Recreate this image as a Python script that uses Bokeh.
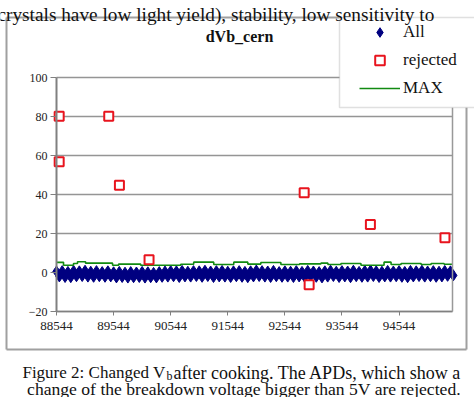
from bokeh.plotting import figure
from bokeh.models import (Range1d, FixedTicker, Label, BoxAnnotation, Legend,
                          LegendItem, ColumnDataSource, LinearAxis)
from bokeh.embed import file_html
from bokeh.resources import INLINE

# ---------------- data ----------------
apd_first = 88544
apd_last = 95480
apd_step = 50
# "All" series: dVb of every APD (dense band around 0)
all_dvb = [0.5, -2.0, 0.7, -2.3, 0.3, -2.4, 0.8, -1.9, 0.6, -1.8,
           0.9, -2.1, 0.4, -2.2, 0.7, -1.9, 0.2, -2.2, 0.6, -2.0,
           0.1, -2.5, 0.3, -2.3, -0.1, -2.6, 0.2, -2.4, 0.0, -2.3,
           0.3, -2.6, 0.1, -2.4, -0.2, -2.5, 0.2, -2.2, 0.5, -2.1,
           0.7, -1.9, 0.6, -2.3, 0.8, -2.0, 0.4, -2.1, 0.7, -1.8,
           0.6, -2.2, 0.9, -1.8, 0.5, -2.3, 0.7, -2.0, 0.8, -2.1,
           0.4, -2.3, 0.6, -1.9, 0.7, -2.2, 0.3, -2.4, 0.6, -2.0,
           1.0, -1.8, 0.7, -2.1, 0.5, -2.3, 0.8, -1.9, 0.2, -2.2,
           0.6, -2.1, 0.4, -2.3, 0.7, -2.0, 0.3, -2.4, 0.8, -1.9,
           0.5, -2.2, 0.2, -2.5, 0.6, -2.1, 0.9, -1.8, 0.4, -2.3,
           0.7, -2.0, 0.5, -2.4, 0.9, -1.9, 0.3, -2.2, 0.8, -2.1,
           1.0, -1.8, 0.6, -2.3, 0.4, -2.0, 0.8, -2.1, 0.5, -1.9,
           0.7, -2.2, 0.3, -2.4, 0.8, -2.0, 0.6, -1.8, 0.9, -2.1,
           0.5, -1.9, 0.7, -2.2, 0.4, -2.0, 0.8, -1.7, 0.6, -1.5]
all_ids = [apd_first + apd_step * i for i in range(len(all_dvb))]

# rejected APDs
rej_ids = [88591, 88591, 89459, 89646, 90165, 92882, 92969, 94042, 95348]
rej_dvb = [80.1, 56.8, 80.1, 44.7, 6.5, 40.9, -6.3, 24.6, 17.8]

# MAX curve (step-like)
max_ids = [88544, 88667, 88842, 88912, 89053, 89526, 89632, 90018, 90720,
           90947, 91298, 91649, 91895, 92123, 92474, 92800, 93175, 93298,
           93526, 93877, 94281, 94404, 94579, 94930, 95105, 95333, 95480]
max_dvb = [5.2, 3.7, 4.6, 5.5, 4.8, 3.7, 4.3, 3.7, 4.2,
           5.3, 4.1, 5.3, 4.3, 5.1, 4.1, 4.4, 4.8, 4.1,
           4.6, 3.7, 5.3, 4.1, 4.6, 4.1, 4.6, 4.2, 4.2]

x_ticks = [88544, 89544, 90544, 91544, 92544, 93544, 94544]
y_ticks = [-20, 0, 20, 40, 60, 80, 100]
y_min, y_max = -20, 100

title_text = "dVb_cern"
top_text = "crystals have low light yield), stability, low sensitivity to"
cap1a = "Figure 2: Changed V"
cap1b = "b"
cap1c = "after cooking. The APDs, which show a"
cap2 = "change of the breakdown voltage bigger than 5V are rejected."

SERIF = "Liberation Serif"

# ---------------- layout (pixels in the canvas) ----------------
W, H = 474, 397
PL, PR, PT, PB = 56, 452, 77, 311          # plot area edges
FL, FR, FT, FB = 6, 466, 17, 349           # chart frame edges
LL, LB = 339, 107                          # legend box left / bottom
kx = (apd_last - apd_first) / (PR - PL)
ky = (y_max - y_min) / (PB - PT)
x_range = Range1d(apd_first - PL * kx, apd_last + (W - PR) * kx)
y_range = Range1d(y_min - (H - PB) * ky, y_max + PT * ky)

def sy(fig_y):          # canvas y (from top) -> screen units (from bottom)
    return H - fig_y

def dx(px):             # canvas x -> data x
    return x_range.start + px * kx

def dy(py):             # canvas y -> data y
    return y_range.end - py * ky

p = figure(width=W, height=H, output_backend="svg", toolbar_location=None,
           x_range=x_range, y_range=y_range,
           min_border=0, min_border_left=0, min_border_right=0,
           min_border_top=0, min_border_bottom=0)
p.background_fill_color = "white"
p.border_fill_color = "white"
p.outline_line_color = None

p.xgrid.visible = False
p.ygrid.ticker = FixedTicker(ticks=y_ticks)
p.ygrid.grid_line_color = "#959595"
p.ygrid.grid_line_width = 1.5
p.ygrid.cross_bounds = (apd_first, apd_last)

p.yaxis.fixed_location = apd_first
p.yaxis.ticker = FixedTicker(ticks=y_ticks)
p.yaxis.bounds = (y_min, y_max)
p.yaxis.axis_line_color = "#808080"
p.yaxis.axis_line_width = 2
p.yaxis.major_tick_line_color = "#808080"
p.yaxis.major_tick_out = 6
p.yaxis.major_tick_in = 0
p.yaxis.minor_tick_line_color = None
p.yaxis.major_label_text_font = SERIF
p.yaxis.major_label_text_font_size = "12px"
p.yaxis.major_label_text_color = "#222222"
p.yaxis.major_label_standoff = 3

p.xaxis.fixed_location = y_min
p.xaxis.ticker = FixedTicker(ticks=x_ticks)
p.xaxis.bounds = (apd_first, apd_last)
p.xaxis.major_label_overrides = {t: str(t) for t in x_ticks}
p.xaxis.axis_line_color = "#808080"
p.xaxis.axis_line_width = 1.5
p.xaxis.major_tick_line_color = "#808080"
p.xaxis.major_tick_out = 4
p.xaxis.major_tick_in = 0
p.xaxis.minor_tick_line_color = None
p.xaxis.major_label_text_font = SERIF
p.xaxis.major_label_text_font_size = "13px"
p.xaxis.major_label_text_color = "#222222"
p.xaxis.major_label_standoff = 6

# frame lines drawn as bare axis lines (no ticks, no labels)
def frame_line(loc, lo, hi, side, color, width):
    ax = LinearAxis(fixed_location=loc, bounds=(lo, hi),
                    ticker=FixedTicker(ticks=[]),
                    axis_line_color=color, axis_line_width=width,
                    major_tick_line_color=None, minor_tick_line_color=None,
                    major_label_text_font_size="0px")
    p.add_layout(ax, side)

FRAME_COL = "#a0a0a0"
frame_line(dx(FL), dy(FB), dy(FT), "left", FRAME_COL, 2)        # chart frame left
frame_line(dx(FR), dy(FB), dy(LB), "left", FRAME_COL, 2)        # chart frame right
frame_line(dy(FT), dx(FL), dx(LL), "below", FRAME_COL, 2)       # chart frame top
frame_line(dy(FB), dx(FL), dx(FR), "below", FRAME_COL, 2)       # chart frame bottom
frame_line(apd_last, y_min, dy(LB), "left", "#999999", 1.5)      # plot-area right

src_all = ColumnDataSource(dict(x=all_ids, y=all_dvb))
src_rej = ColumnDataSource(dict(x=rej_ids, y=rej_dvb))
src_max = ColumnDataSource(dict(x=max_ids, y=max_dvb))

r_all = p.scatter("x", "y", source=src_all, marker="diamond",
                  size=11, fill_color="#000080", line_color="#000080")
r_max = p.step("x", "y", source=src_max, mode="after", line_color="#118a11",
               line_width=1.6)
r_rej = p.scatter("x", "y", source=src_rej, marker="square", size=9,
                  fill_color="white", line_color="#e8141e", line_width=2)

# legend box
p.add_layout(BoxAnnotation(left=LL, right=490, top=sy(FT), bottom=sy(LB),
                           left_units="screen", right_units="screen",
                           top_units="screen", bottom_units="screen",
                           fill_color="white", fill_alpha=1,
                           line_color="#999999", line_width=1.5))

legend = Legend(items=[LegendItem(label="All", renderers=[r_all]),
                       LegendItem(label="rejected", renderers=[r_rej]),
                       LegendItem(label="MAX", renderers=[r_max])],
                location=(359, sy(100)), padding=0, margin=0, spacing=4,
                glyph_width=41, glyph_height=24, label_height=24,
                label_standoff=3, label_text_font=SERIF,
                label_text_font_size="17px", label_text_color="#111111",
                border_line_color=None, background_fill_alpha=0)
p.add_layout(legend, "center")

def lab(x, y, text, size, align="left", style="normal", baseline="alphabetic"):
    p.add_layout(Label(x=x, y=sy(y), x_units="screen", y_units="screen", text=text,
                       text_font=SERIF, text_font_size=size, text_align=align,
                       text_font_style=style, text_baseline=baseline,
                       text_color="#111111"))

lab(239, 36, title_text, "16px", align="center", style="bold", baseline="middle")
lab(-3, 14, top_text, "19.3px")
lab(165, 372, cap1a, "17px", align="right")
lab(166, 375.5, cap1b, "12px")
lab(173, 372, cap1c, "18px")
lab(243.5, 388, cap2, "17.6px", align="center")

open("out.html", "w").write(file_html(p, INLINE))
